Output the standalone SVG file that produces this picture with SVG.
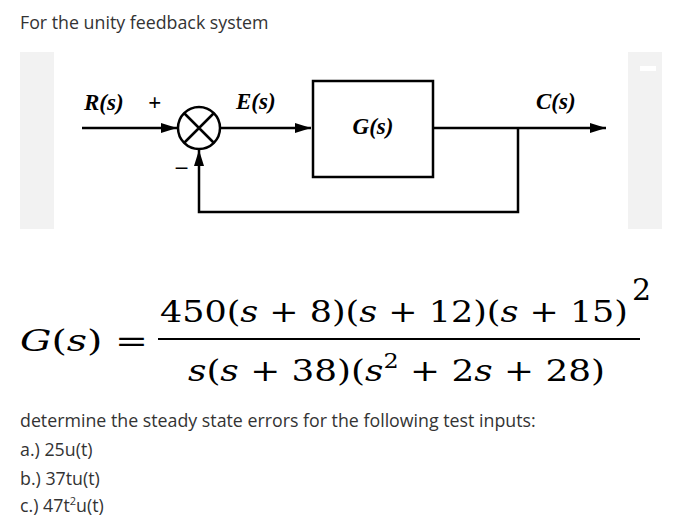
<svg xmlns="http://www.w3.org/2000/svg" width="679" height="527" viewBox="0 0 679 527">
<defs>
<marker id="ah" markerWidth="16" markerHeight="10" refX="16" refY="5" orient="auto" markerUnits="userSpaceOnUse"><path d="M0,0 L16,5 L0,10 z" fill="#000"/></marker>
<style>
.t{font-family:"Open Sans","Liberation Sans",sans-serif;font-size:17.8px;fill:#333}
.b{font-family:"Liberation Serif",serif;font-style:italic;font-weight:bold;font-size:23px;fill:#000}
.m{font-family:"DejaVu Serif",serif;font-size:30px;fill:#000}
.ln{stroke:#000;stroke-width:2.5;fill:none}
</style>
</defs>
<rect width="679" height="527" fill="#fff"/>
<text class="t" x="20" y="29">For the unity feedback system</text>
<rect x="20" y="52" width="642" height="177" fill="#f2f2f2"/>
<rect x="54" y="52" width="574" height="177" fill="#fff"/>
<rect x="640" y="66" width="16" height="5" fill="#fff"/>
<g id="connectors">
<path class="ln" d="M82,128 H177" marker-end="url(#ah)"/>
<path class="ln" d="M219,128 H311" marker-end="url(#ah)"/>
<path class="ln" d="M433,128 H606" marker-end="url(#ah)"/>
<path class="ln" d="M518,128 V212 H199 V150" marker-end="url(#ah)"/>
</g>
<g id="sum"><circle cx="199" cy="128" r="21" class="ln" stroke-width="2"/><path class="ln" stroke-width="2" d="M184,113 L214,143 M214,113 L184,143"/></g>
<g id="G"><rect x="313" y="81" width="120" height="96" class="ln"/><text class="b" x="373" y="134" text-anchor="middle">G(s)</text></g>
<text class="b" x="84" y="110">R(s)</text>
<text class="b" x="148" y="110" font-style="normal">+</text>
<text class="b" x="176" y="174" font-style="normal">–</text>
<text class="b" x="236" y="109">E(s)</text>
<text class="b" x="536" y="109">C(s)</text>
<text class="m" x="20" y="351" textLength="128" lengthAdjust="spacingAndGlyphs"><tspan font-style="italic">G</tspan>(<tspan font-style="italic">s</tspan>) =</text>
<text class="m" x="160" y="322" textLength="468" lengthAdjust="spacingAndGlyphs">450(<tspan font-style="italic">s</tspan> + 8)(<tspan font-style="italic">s</tspan> + 12)(<tspan font-style="italic">s</tspan> + 15)</text>
<text class="m" x="632" y="300" font-size="19">2</text>
<rect x="158" y="338" width="482" height="2" fill="#000"/>
<text class="m" x="188" y="381" textLength="417" lengthAdjust="spacingAndGlyphs"><tspan font-style="italic">s</tspan>(<tspan font-style="italic">s</tspan> + 38)(<tspan font-style="italic">s</tspan><tspan font-size="20" dy="-13">2</tspan><tspan dy="13"> + 2</tspan><tspan font-style="italic">s</tspan> + 28)</text>
<text class="t" x="20" y="427">determine the steady state errors for the following test inputs:</text>
<text class="t" x="20" y="456">a.) 25u(t)</text>
<text class="t" x="20" y="485">b.) 37tu(t)</text>
<text class="t" x="20" y="512">c.) 47t<tspan font-size="11" dy="-7">2</tspan><tspan dy="7">u(t)</tspan></text>
</svg>
